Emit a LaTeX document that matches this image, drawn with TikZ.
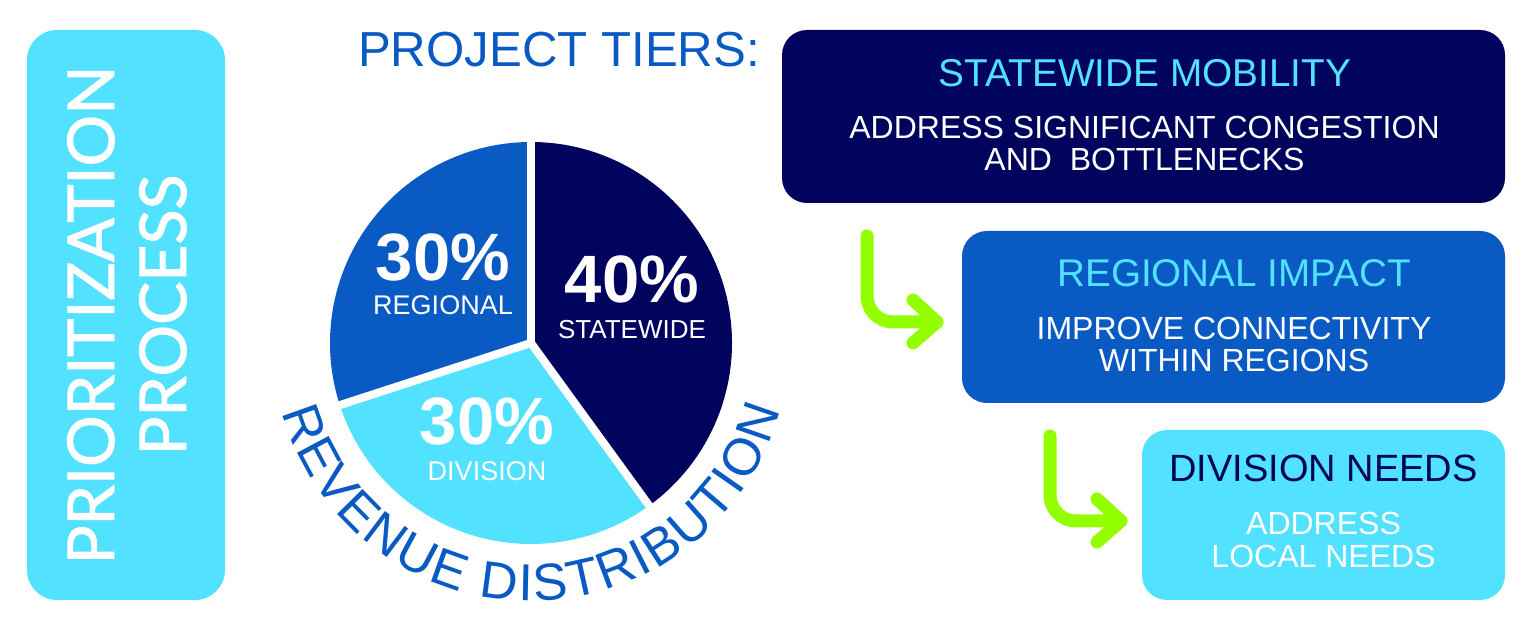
\documentclass[tikz,border=0pt]{standalone}
\usepackage{fontspec}
\setmainfont{Liberation Sans}
\newfontfamily\latofont[FakeBold=1.5]{Lato}
\usetikzlibrary{decorations.text}
\definecolor{navy}{HTML}{00045C}
\definecolor{midblue}{HTML}{0A5AC4}
\definecolor{cyanbox}{HTML}{52E2FF}
\definecolor{limegreen}{HTML}{94FF00}
\newcommand{\fs}[1]{\fontsize{#1}{#1}\selectfont}
\tikzset{
  x=1pt,y=1pt,
  panel/.style={rectangle,rounded corners=25pt,inner sep=0pt,draw=none},
  lbl/.style={anchor=base,inner sep=0pt,outer sep=0pt},
  flow/.style={draw=limegreen,line width=13pt,line cap=round,line join=round},
}
\begin{document}
\begin{tikzpicture}
\useasboundingbox (0,0) rectangle (1536,634);
% panels
\node[panel,fill=cyanbox,rounded corners=30pt,minimum width=198pt,minimum height=570pt] (side) at (126,319) {};
\node[panel,fill=navy,minimum width=723pt,minimum height=173pt] (state) at (1143.5,517.5) {};
\node[panel,fill=midblue,minimum width=543pt,minimum height=172pt] (region) at (1233.5,317) {};
\node[panel,fill=cyanbox,minimum width=363pt,minimum height=170pt] (divis) at (1323.5,119) {};
% side text
\node[lbl,rotate=90,text=white,font=\latofont\fs{64.5}] (t1) at (114,319) {PRIORITIZATION};
\node[lbl,rotate=90,text=white,font=\latofont\fs{64.5}] (t2) at (186,319) {PROCESS};
% heading
\node[lbl,text=midblue,font=\fs{49.2}] (head) at (559,567) {PROJECT TIERS:};
% pie
\fill[navy] (531,291) -- (531,492) arc[start angle=90,end angle=-54,radius=201] -- cycle;
\fill[cyanbox] (531,291) -- ++(-54:201) arc[start angle=-54,end angle=-162,radius=201] -- cycle;
\fill[midblue] (531,291) -- ++(198:201) arc[start angle=198,end angle=90,radius=201] -- cycle;
\draw[white,line width=8pt] (531,291) -- ++(0,205);
\draw[white,line width=8pt] (531,291) -- ++(-54:205);
\draw[white,line width=8pt] (531,291) -- ++(198:205);
\node[lbl,text=white,font=\bfseries\fs{67}] (p1) at (632,331) {40\%};
\node[lbl,text=white,font=\fs{26}] (p1l) at (632,295) {STATEWIDE};
\node[lbl,text=white,font=\bfseries\fs{67}] (p2) at (443,353) {30\%};
\node[lbl,text=white,font=\fs{27}] (p2l) at (443,319) {REGIONAL};
\node[lbl,text=white,font=\bfseries\fs{67}] (p3) at (487,189) {30\%};
\node[lbl,text=white,font=\fs{27}] (p3l) at (487,153) {DIVISION};
% curved caption
\path[decorate,decoration={text along path,text align=fit to path,
  text={|\fs{52}\color{midblue}|REVENUE DISTRIBUTION}}]
  (531,291) ++(195.5:258) arc[start angle=195.5,end angle=345,radius=258];
% box texts
\node[lbl,text=cyanbox,font=\fs{38.8}] (a1) at (1145,547) {STATEWIDE MOBILITY};
\node[lbl,text=white,font=\fs{32}] (a2) at (1144.5,495) {ADDRESS SIGNIFICANT CONGESTION};
\node[lbl,text=white,font=\fs{32}] (a3) at (1144.5,463) {AND\ \ BOTTLENECKS};
\node[lbl,text=cyanbox,font=\fs{38.6}] (b1) at (1234,347) {REGIONAL IMPACT};
\node[lbl,text=white,font=\fs{32}] (b2) at (1234,294) {IMPROVE CONNECTIVITY};
\node[lbl,text=white,font=\fs{32}] (b3) at (1234,262) {WITHIN REGIONS};
\node[lbl,text=navy,font=\fs{38}] (c1) at (1323.5,152) {DIVISION NEEDS};
\node[lbl,text=white,font=\fs{32}] (c2) at (1323.5,99) {ADDRESS};
\node[lbl,text=white,font=\fs{32}] (c3) at (1323.5,66) {LOCAL NEEDS};
% arrows
\coordinate (s1) at (867,398);
\coordinate (e1) at (937,312);
\coordinate (s2) at (1050,198);
\coordinate (e2) at (1121,113);
\draw[flow,rounded corners=26pt] (s1) |- (e1);
\draw[flow] (913,334) -- (e1) -- (913,291);
\draw[flow,rounded corners=26pt] (s2) |- (e2);
\draw[flow] (1097,135) -- (e2) -- (1097,92);
\end{tikzpicture}
\end{document}
